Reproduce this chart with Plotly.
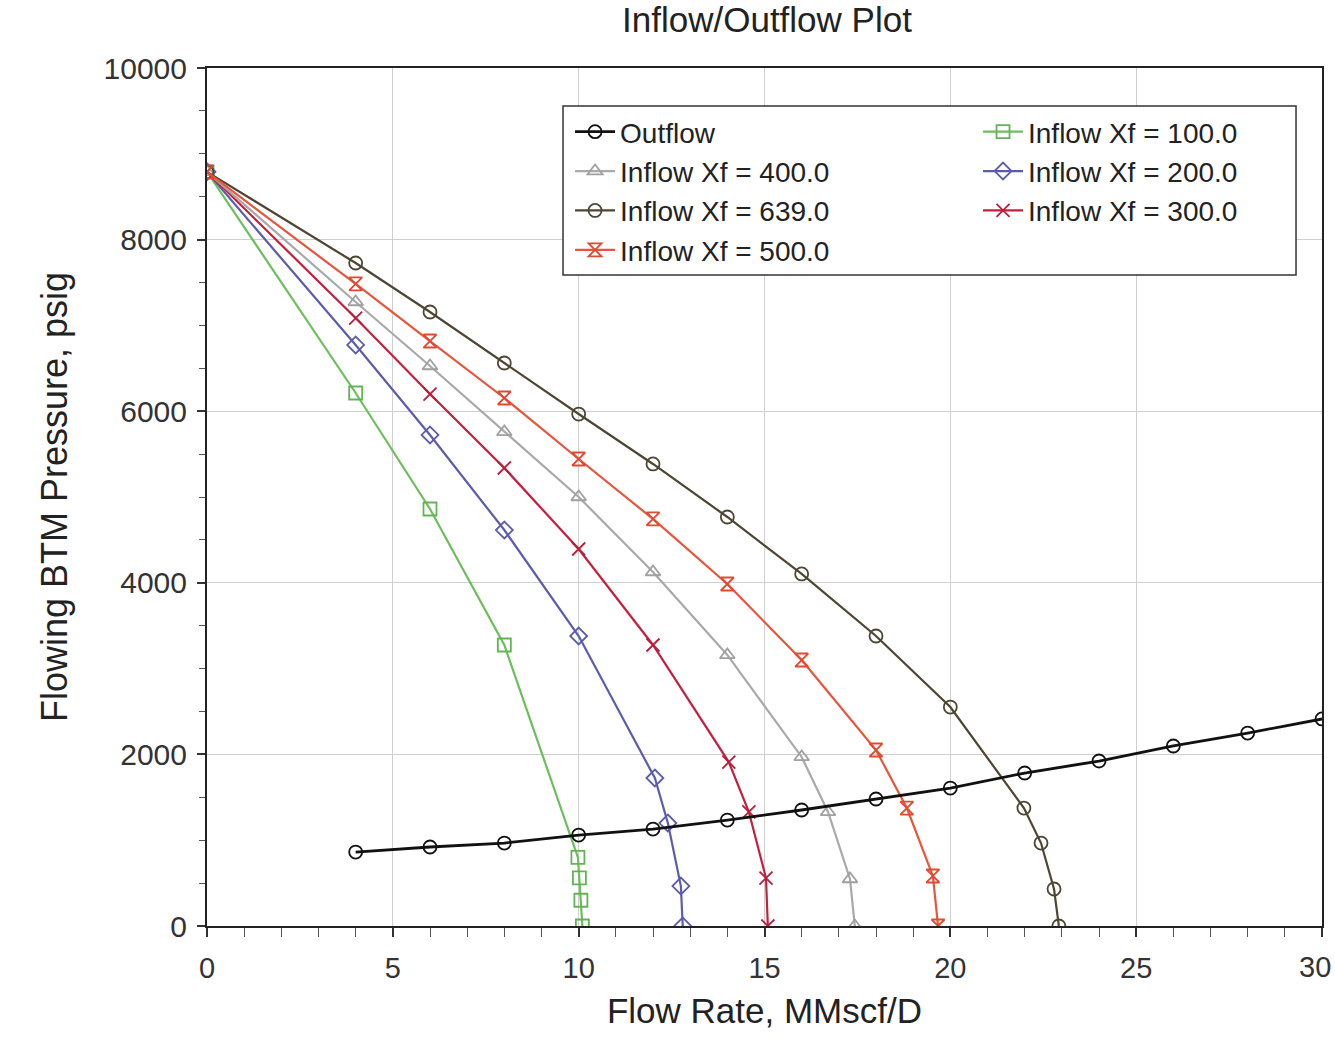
import plotly.graph_objects as go

# ---------------- data ----------------
outflow_q = [4, 6, 8, 10, 12, 14, 16, 18, 20, 22, 24, 26, 28, 30]
outflow_p = [862, 921, 967, 1060, 1130, 1235, 1352, 1480, 1608, 1783, 1923, 2098, 2249, 2413]

xf100_q = [0, 4, 6, 8, 9.98, 10.02, 10.06, 10.1]
xf100_p = [8790, 6212, 4860, 3275, 800, 560, 300, 0]

xf200_q = [0, 4, 6, 8, 10, 12.05, 12.4, 12.75, 12.8]
xf200_p = [8790, 6772, 5723, 4615, 3380, 1725, 1200, 466, 0]

xf300_q = [0, 4, 6, 8, 10, 12, 14.04, 14.58, 15.04, 15.09]
xf300_p = [8790, 7086, 6200, 5338, 4394, 3275, 1911, 1329, 559, 0]

xf400_q = [0, 4, 6, 8, 10, 12, 14, 16, 16.71, 17.3, 17.43]
xf400_p = [8790, 7273, 6527, 5758, 5000, 4126, 3159, 1970, 1329, 548, 0]

xf500_q = [0, 4, 6, 8, 10, 12, 14, 16, 18, 18.83, 19.53, 19.67]
xf500_p = [8790, 7483, 6818, 6154, 5443, 4744, 3986, 3100, 2051, 1375, 583, 0]

xf639_q = [0, 4, 6, 8, 10, 12, 14, 16, 18, 20, 21.98, 22.44, 22.79, 22.92]
xf639_p = [8790, 7727, 7156, 6562, 5967, 5385, 4767, 4103, 3380, 2552, 1375, 967, 431, 0]

x_ticks = [0, 5, 10, 15, 20, 25, 30]
x_labels = ["0", "5", "10", "15", "20", "25", ""]   # last label placed below as annotation
last_x_label = "30"
y_ticks = [0, 2000, 4000, 6000, 8000, 10000]

FONT = "Liberation Sans, Arial, sans-serif"

fig = go.Figure()

def add(name, q, p, color, mcolor, symbol, legend, rank, width=2.2, msize=13):
    fig.add_trace(go.Scatter(
        x=q, y=p, name=name, mode="lines+markers",
        line=dict(color=color, width=width),
        marker=dict(symbol=symbol, size=msize, color=mcolor,
                    line=dict(color=mcolor, width=1.8)),
        legend=legend, legendrank=rank, legendgroup=name,
    ))

add("Inflow Xf = 100.0", xf100_q, xf100_p, "#6cbf5c", "#62b552", "square-open", "legend2", 1)
add("Inflow Xf = 200.0", xf200_q, xf200_p, "#5c5cae", "#5c5cae", "diamond-open", "legend2", 2)
add("Inflow Xf = 300.0", xf300_q, xf300_p, "#c3203e", "#b81e3a", "x-thin-open", "legend2", 3)
add("Inflow Xf = 400.0", xf400_q, xf400_p, "#a9a9a9", "#a0a0a0", "triangle-up-open", "legend", 2)
add("Inflow Xf = 639.0", xf639_q, xf639_p, "#4e4632", "#4e4632", "circle-open", "legend", 3)
add("Inflow Xf = 500.0", xf500_q, xf500_p, "#e8553a", "#e04a30", "hourglass-open", "legend", 4)
add("Outflow", outflow_q, outflow_p, "#111111", "#111111", "circle-open", "legend", 1, width=2.8, msize=13)

# legend frame (paper coords)
fig.add_shape(type="rect", xref="paper", yref="paper",
              x0=0.3193, x1=0.9767, y0=0.7587, y1=0.9557,
              line=dict(color="#333333", width=1.5), fillcolor="rgba(255,255,255,1)",
              layer="above")

# last x tick label, kept inside the page
fig.add_annotation(x=x_ticks[-1], xref="x", y=-0.0478, yref="paper",
                   text=last_x_label, showarrow=False, xanchor="right", yanchor="middle",
                   xshift=11, font=dict(family=FONT, size=29, color="#333333"))

legend_common = dict(font=dict(family=FONT, size=28, color="#222222"),
                     bgcolor="rgba(0,0,0,0)", borderwidth=0,
                     itemwidth=40, tracegroupgap=0, traceorder="grouped",
                     xanchor="left", yanchor="top")

fig.update_layout(
    width=1335, height=1053,
    margin=dict(l=207, r=13, t=68, b=127, autoexpand=False),
    paper_bgcolor="white", plot_bgcolor="white",
    title=dict(text="Inflow/Outflow Plot", x=0.5745, xanchor="center",
               y=0.981, yanchor="middle",
               font=dict(family=FONT, size=35, color="#222222")),
    legend=dict(x=0.3256, y=0.9546, **legend_common),
    legend2=dict(x=0.6915, y=0.9546, **legend_common),
    showlegend=True,
)

fig.update_xaxes(
    range=[0, 30], tickvals=x_ticks, ticktext=x_labels,
    ticklabeloverflow="allow", automargin=False,
    showgrid=True, gridcolor="#cfcfcf", gridwidth=1.2,
    showline=True, linecolor="#222222", linewidth=2, mirror=True,
    ticks="outside", ticklen=9, tickwidth=1.5, tickcolor="#333333",
    minor=dict(dtick=1, ticks="outside", ticklen=9, tickwidth=1.2,
               tickcolor="#555555", showgrid=False),
    tickfont=dict(family=FONT, size=29, color="#333333"),
    ticklabelstandoff=6,
    title=dict(text="Flow Rate, MMscf/D", standoff=16,
               font=dict(family=FONT, size=35, color="#222222")),
    zeroline=False,
)
fig.update_yaxes(
    range=[0, 10000], tickvals=y_ticks, ticktext=[str(v) for v in y_ticks],
    automargin=False,
    showgrid=True, gridcolor="#cfcfcf", gridwidth=1.2,
    showline=True, linecolor="#222222", linewidth=2, mirror=True,
    ticks="outside", ticklen=8, tickwidth=1.5, tickcolor="#333333",
    minor=dict(dtick=500, ticks="outside", ticklen=6, tickwidth=1.2,
               tickcolor="#555555", showgrid=False),
    tickfont=dict(family=FONT, size=30, color="#333333"),
    ticklabelstandoff=4,
    title=dict(text="Flowing BTM Pressure, psig", standoff=25,
               font=dict(family=FONT, size=36, color="#222222")),
    zeroline=False,
)

fig.write_html("out.html", config={"displayModeBar": False},
               post_script="document.body.style.margin='0';")
